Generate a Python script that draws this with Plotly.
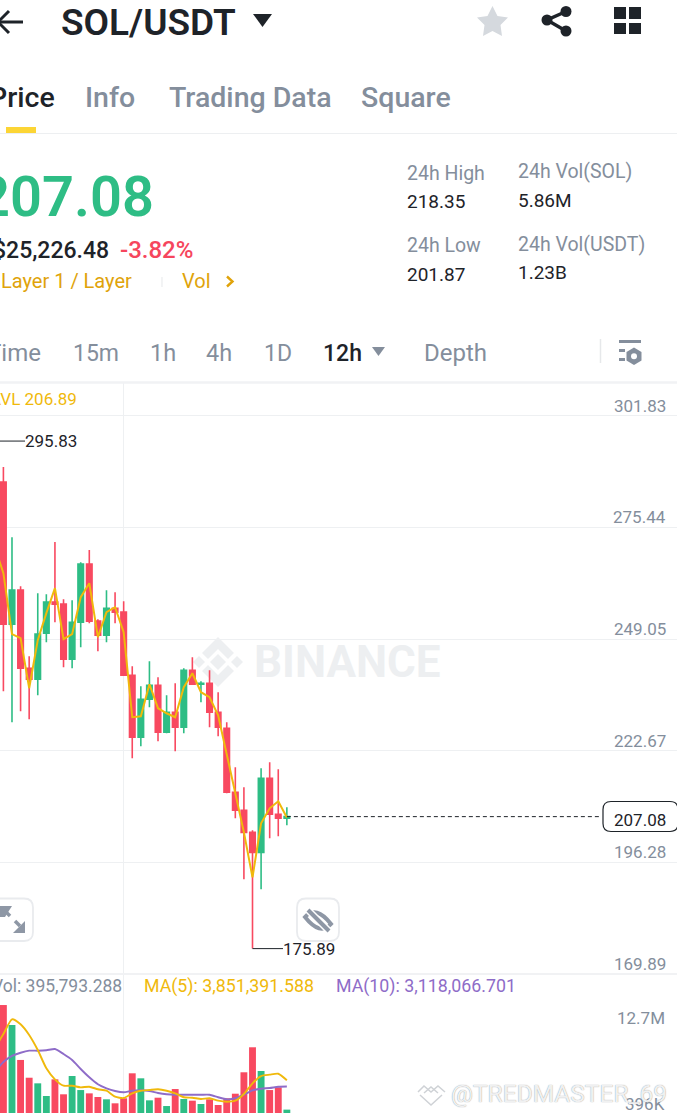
import plotly.graph_objects as go

W = 677
H = 1114

# 12h candles, oldest visible one first
candle_x = list(range(34))
opens = [286.14, 252.56, 260.60, 242.16, 239.55, 250.43, 257.76, 257.29, 244.28, 253.03,
         266.75, 253.27, 249.96, 256.34, 255.40, 240.50, 225.84, 234.82, 238.14, 227.02,
         231.75, 228.20, 241.68, 238.37, 238.61, 231.75, 227.97, 212.83, 208.58, 203.37,
         198.64, 216.14, 207.63, 206.68]
highs = [289.69, 273.13, 261.55, 244.99, 259.89, 259.65, 271.95, 258.47, 258.23, 267.22,
         270.06, 253.74, 260.60, 260.13, 258.00, 242.63, 237.90, 243.81, 240.03, 235.77,
         238.61, 242.16, 244.76, 239.08, 241.68, 236.48, 229.39, 218.74, 214.02, 203.85,
         218.51, 219.93, 218.27, 209.29]
lows = [236.72, 229.39, 231.99, 230.10, 235.77, 248.30, 253.03, 242.39, 242.16, 247.12,
        252.80, 246.18, 248.30, 252.80, 240.50, 220.87, 223.71, 232.93, 224.89, 226.78,
        222.53, 226.78, 238.37, 234.12, 228.20, 226.08, 212.60, 206.68, 192.26, 175.89,
        189.90, 201.96, 202.43, 205.03]
closes = [252.56, 260.60, 242.16, 239.55, 250.20, 257.76, 257.29, 244.28, 253.03, 266.75,
          253.27, 249.96, 256.34, 255.40, 240.50, 225.84, 234.82, 238.14, 227.02, 231.75,
          228.20, 241.68, 238.37, 238.61, 231.75, 228.20, 212.83, 208.58, 203.37, 198.64,
          216.14, 207.63, 206.68, 207.08]

# volumes in millions
volumes = [12.7, 10.35, 6.24, 4.15, 3.49, 2.0, 3.96, 2.2, 4.35, 2.7,
           2.31, 1.88, 1.61, 1.14, 1.73, 4.67, 4.08, 1.49, 1.8, 0.82,
           2.82, 1.65, 1.45, 1.06, 1.61, 0.94, 1.73, 2.27, 4.79, 7.73,
           4.94, 2.7, 3.02, 0.396]

# the lines start one candle before the left edge
line_x = list(range(-1, 34))
avl = [270.77, 264.62, 250.20, 249.25, 237.43, 248.78, 255.16, 261.07, 249.01, 250.20,
       258.94, 262.25, 249.49, 255.40, 256.58, 250.67, 230.57, 230.80, 238.37, 232.70,
       231.51, 230.57, 237.66, 240.97, 236.48, 235.30, 231.04, 222.06, 212.83, 203.37,
       192.73, 205.50, 209.05, 210.70, 206.89]
vol_ma5 = [7.65, 9.29, 11.02, 10.44, 9.18, 7.41, 5.26, 3.96, 3.21, 3.21,
           3.02, 3.09, 2.79, 2.62, 1.92, 1.76, 2.32, 2.62, 2.71, 2.79,
           2.62, 2.32, 1.85, 1.80, 1.65, 1.73, 1.45, 1.33, 1.45, 2.24,
           3.49, 4.35, 4.51, 4.62, 3.851]
vol_ma10 = [4.82, 6.0, 6.71, 7.09, 7.33, 7.33, 7.38, 7.53, 6.94, 6.24,
            5.18, 4.20, 3.38, 2.91, 2.59, 2.44, 2.62, 2.67, 2.59, 2.35,
            2.20, 2.15, 2.15, 2.15, 2.15, 2.15, 1.85, 1.61, 1.73, 2.15,
            2.67, 2.86, 2.94, 3.09, 3.118]

price_ticks = [301.83, 275.44, 249.05, 222.67, 196.28, 169.89]
last_price = 207.08
high_price = 295.83
low_price = 175.89

GREEN = "#2EBD85"
RED = "#F84960"
YELLOW = "#F0B90B"
PURPLE = "#8E6CC8"
DARK = "#1E2329"
GRAY = "#848E9C"
AMBER = "#E0A30A"
GRID = "#EEF0F2"
WM = "#EDEFF1"
FONT = "Roboto"


def px(x):
    return x / W


def py(y):
    return 1 - y / H


def path(points, close=True):
    d = "M " + " L ".join(f"{px(x):.5f} {py(y):.5f}" for x, y in points)
    return d + (" Z" if close else "")


def rounded(x0, y0, x1, y1, r):
    c = [(x0 + r, y0), (x1 - r, y0), (x1, y0), (x1, y0 + r), (x1, y1 - r), (x1, y1),
         (x1 - r, y1), (x0 + r, y1), (x0, y1), (x0, y1 - r), (x0, y0 + r), (x0, y0), (x0 + r, y0)]
    p = [f"{px(x):.5f} {py(y):.5f}" for x, y in c]
    return (f"M {p[0]} L {p[1]} Q {p[2]} {p[3]} L {p[4]} Q {p[5]} {p[6]} L {p[7]} "
            f"Q {p[8]} {p[9]} L {p[10]} Q {p[11]} {p[12]} Z")


def fill_shape(points, color, layer="above"):
    return dict(type="path", xref="paper", yref="paper", path=path(points), fillcolor=color,
                line=dict(width=0), layer=layer)


def stroke_shape(points, color, width=2, layer="above"):
    return dict(type="path", xref="paper", yref="paper", path=path(points, False),
                line=dict(color=color, width=width), layer=layer)


def circle(cx, cy, r, color):
    return dict(type="circle", xref="paper", yref="paper", x0=px(cx - r), x1=px(cx + r),
                y0=py(cy + r), y1=py(cy - r), fillcolor=color, line=dict(width=0))


def diamond(cx, cy, r, color):
    return fill_shape([(cx, cy - r), (cx + r, cy), (cx, cy + r), (cx - r, cy)], color, "below")


def txt(x, y, text, size, color, anchor="left", weight=400):
    # side bearings push the glyphs in a little from the anchor
    nudge = {"left": -1, "right": 2, "center": 0}[anchor]
    return dict(xref="paper", yref="paper", x=px(x + nudge), y=py(y), text=text, showarrow=False,
                xanchor=anchor, yanchor="middle", borderpad=0,
                font=dict(family=FONT, size=size, color=color, weight=weight))


fig = go.Figure()

fig.add_trace(go.Candlestick(
    x=candle_x, open=opens, high=highs, low=lows, close=closes,
    increasing=dict(line=dict(color=GREEN, width=1.6), fillcolor=GREEN),
    decreasing=dict(line=dict(color=RED, width=1.6), fillcolor=RED),
    whiskerwidth=0, hoverinfo="skip", xaxis="x", yaxis="y",
))
fig.add_trace(go.Scatter(x=line_x, y=avl, mode="lines", line=dict(color=YELLOW, width=2),
                         hoverinfo="skip", xaxis="x", yaxis="y"))
fig.add_trace(go.Bar(x=candle_x, y=volumes, width=0.8,
                     marker=dict(color=[GREEN if c >= o else RED for o, c in zip(opens, closes)],
                                 line=dict(width=0)),
                     hoverinfo="skip", xaxis="x2", yaxis="y2"))
fig.add_trace(go.Scatter(x=line_x, y=vol_ma10, mode="lines",
                         line=dict(color=PURPLE, width=1.9, shape="spline", smoothing=0.6),
                         hoverinfo="skip", xaxis="x2", yaxis="y2"))
fig.add_trace(go.Scatter(x=line_x, y=vol_ma5, mode="lines",
                         line=dict(color=YELLOW, width=1.9, shape="spline", smoothing=0.6),
                         hoverinfo="skip", xaxis="x2", yaxis="y2"))

shapes = [
    # header dividers
    dict(type="line", xref="paper", yref="paper", x0=0, x1=1, y0=py(133.5), y1=py(133.5),
         line=dict(color="#EDEFF1", width=1)),
    fill_shape([(6, 127), (36, 127), (36, 133), (6, 133)], "#FCD535"),
    dict(type="line", xref="paper", yref="paper", x0=0, x1=1, y0=py(382.5), y1=py(382.5),
         line=dict(color="#F1F2F4", width=2.5)),
    dict(type="line", xref="paper", yref="paper", x0=0, x1=1, y0=py(974), y1=py(974),
         line=dict(color="#F1F2F4", width=2)),
    # back arrow
    stroke_shape([(0, 22), (23, 22)], DARK, 3),
    stroke_shape([(9, 11), (-2, 22), (9, 33)], DARK, 3),
    # dropdown
    fill_shape([(253, 14), (272, 14), (262.5, 27)], DARK),
    # star
    fill_shape([(492.5, 6), (497.5, 16), (508, 17.5), (500.5, 25), (502, 36), (492.5, 31),
                (483, 36), (484.5, 25), (477, 17.5), (487.5, 16)], "#D5D9DE"),
    # share
    stroke_shape([(566, 11.5), (547, 20), (566, 31)], DARK, 3.5),
    circle(566, 11.5, 5.5, DARK), circle(547, 20, 5.5, DARK), circle(566, 31, 5.5, DARK),
    # grid
    fill_shape([(614, 7), (626, 7), (626, 19), (614, 19)], DARK),
    fill_shape([(629, 7), (641, 7), (641, 19), (629, 19)], DARK),
    fill_shape([(614, 23), (626, 23), (626, 34), (614, 34)], DARK),
    fill_shape([(629, 23), (641, 23), (641, 34), (629, 34)], DARK),
    # small bits next to text
    fill_shape([(372, 347), (385, 347), (378.5, 356)], GRAY),
    stroke_shape([(227, 276.5), (232.5, 281.5), (227, 286.5)], AMBER, 2.4),
    stroke_shape([(162, 277), (162, 287)], "#E6E8EA", 1),
    stroke_shape([(600.5, 339), (600.5, 363)], "#E6E8EA", 1.5),
    # chart settings icon
    fill_shape([(619, 340), (641, 340), (641, 343), (619, 343)], GRAY),
    fill_shape([(619, 349), (625, 349), (625, 352), (619, 352)], GRAY),
    fill_shape([(619, 358), (625, 358), (625, 361), (619, 361)], GRAY),
    fill_shape([(634, 347.5), (641.5, 352), (641.5, 360.5), (634, 365), (626.5, 360.5), (626.5, 352)], GRAY),
    circle(634, 356.2, 3, "#FFFFFF"),
    # watermark logo
    diamond(218, 662, 8, WM),
    diamond(199, 662, 6, WM),
    diamond(237, 662, 6, WM),
    fill_shape([(218, 637), (234, 653), (228, 659), (218, 649), (208, 659), (202, 653)], WM, "below"),
    fill_shape([(218, 687), (234, 671), (228, 665), (218, 675), (208, 665), (202, 671)], WM, "below"),
    # price guides
    dict(type="line", xref="paper", yref="y", x0=0, x1=px(25), y0=high_price, y1=high_price,
         line=dict(color=DARK, width=1)),
    dict(type="line", xref="x", yref="y", x0=29, x1=32.55, y0=low_price, y1=low_price,
         line=dict(color=DARK, width=1)),
    dict(type="line", xref="x", yref="y", x0=33, x1=69.4, y0=last_price, y1=last_price,
         line=dict(color=DARK, width=1, dash="4px,3px")),
    # last price box
    dict(type="path", xref="paper", yref="paper", path=rounded(603, 801.5, 678, 831.5, 8),
         fillcolor="#FFFFFF", line=dict(color=DARK, width=1.2)),
    # expand button
    dict(type="path", xref="paper", yref="paper", path=rounded(-10, 898.5, 33, 941, 9),
         fillcolor="#FFFFFF", line=dict(color="#E9EBEE", width=1.8)),
    fill_shape([(0, 906), (12, 906), (5, 917), (0, 917)], "#8E97A5"),
    stroke_shape([(5, 911), (10, 916)], "#8E97A5", 3.5),
    stroke_shape([(15, 921), (20, 926)], "#8E97A5", 3.5),
    fill_shape([(25, 921), (25, 933), (13, 933)], "#8E97A5"),
    # hide indicators button
    dict(type="path", xref="paper", yref="paper", path=rounded(297, 898.5, 339, 941, 9),
         fillcolor="#FFFFFF", line=dict(color="#E9EBEE", width=1.8)),
    dict(type="path", xref="paper", yref="paper", line=dict(color="#8E97A5", width=4),
         path=f"M {px(305)} {py(917)} Q {px(316)} {py(905)} {px(331)} {py(924)} "
              f"Q {px(320)} {py(936)} {px(305)} {py(917)} Z"),
    stroke_shape([(306, 908), (330, 932)], "#FFFFFF", 7),
    stroke_shape([(308, 910), (329, 931)], "#8E97A5", 4),
    # signature logo
    stroke_shape([(418, 1092), (424, 1086), (431, 1092), (438, 1086), (445, 1092)], "#CFD2D6", 1.5),
    stroke_shape([(424, 1093), (431, 1087), (438, 1093)], "#CFD2D6", 1.5),
    stroke_shape([(420, 1095), (431, 1105), (442, 1095)], "#CFD2D6", 1.5),
]

annotations = [
    txt(61, 22, "SOL/USDT", 37, DARK, weight=600),
    txt(54, 97, "Price", 28.5, DARK, "right", 500),
    txt(85, 97, "Info", 28.5, GRAY, weight=500),
    txt(169, 97, "Trading Data", 28.5, GRAY, weight=500),
    txt(361, 97, "Square", 28.5, GRAY, weight=500),
    txt(153, 197, "207.08", 56, GREEN, "right", 600),
    txt(108, 250, "$25,226.48", 23, DARK, "right", 500),
    txt(120, 250, "-3.82%", 24, "#F6465D", weight=500),
    txt(1, 281, "Layer 1 / Layer", 20, AMBER),
    txt(182, 281, "Vol", 20, AMBER),
    txt(407, 174, "24h High", 19.5, GRAY),
    txt(407, 202, "218.35", 19, DARK),
    txt(518, 171, "24h Vol(SOL)", 19.5, GRAY),
    txt(518, 200, "5.86M", 19, DARK),
    txt(407, 246, "24h Low", 19.5, GRAY),
    txt(407, 274, "201.87", 19, DARK),
    txt(518, 244, "24h Vol(USDT)", 19.5, GRAY),
    txt(518, 272, "1.23B", 19, DARK),
    txt(40, 353, "Time", 24, GRAY, "right"),
    txt(73, 353, "15m", 23, GRAY),
    txt(150, 353, "1h", 23.5, GRAY),
    txt(206, 353, "4h", 23.5, GRAY),
    txt(264, 353, "1D", 23, GRAY),
    txt(323, 353, "12h", 23, DARK, weight=500),
    txt(424, 353, "Depth", 24, GRAY),
    txt(76, 399, "AVL 206.89", 17, YELLOW, "right"),
    txt(254, 662, "BINANCE", 44, WM, weight=700),
    txt(639.5, 820, "207.08", 17, DARK, "center"),
    txt(121, 986, "Vol: 395,793.288", 17.5, GRAY, "right"),
    txt(144, 986, "MA(5): 3,851,391.588", 17.8, YELLOW),
    txt(336, 986, "MA(10): 3,118,066.701", 17.8, PURPLE),
    txt(664, 1018, "12.7M", 17, GRAY, "right"),
    txt(664, 1104, "396K", 17, GRAY, "right"),
]
annotations.append(dict(
    xref="paper", yref="paper", x=px(450), y=py(1093), text="@TREDMASTER_69", showarrow=False,
    xanchor="left", yanchor="middle", borderpad=0,
    font=dict(family=FONT, size=24.5, color="rgba(255,255,255,0.9)", shadow="0 0 1px #6F747A"),
))

# price labels sit just above their grid lines
for tick in price_ticks:
    annotations.append(dict(xref="paper", yref="y", x=px(667), y=tick, yshift=10, text=f"{tick:.2f}",
                            showarrow=False, xanchor="right", yanchor="middle", borderpad=0,
                            font=dict(family=FONT, size=17, color=GRAY)))
annotations.append(dict(xref="paper", yref="y", x=px(24), y=high_price, text=f"{high_price:.2f}",
                        showarrow=False, xanchor="left", yanchor="middle", borderpad=0,
                        font=dict(family=FONT, size=17, color=DARK)))
annotations.append(dict(xref="x", yref="y", x=32.45, y=low_price, text=f"{low_price:.2f}",
                        showarrow=False, xanchor="left", yanchor="middle", borderpad=0,
                        font=dict(family=FONT, size=17, color=DARK)))

x_axis = dict(range=[-0.396, 78.42], tickvals=[14], showticklabels=False, showgrid=True,
              gridcolor=GRID, gridwidth=1, zeroline=False, showline=False, ticks="",
              rangeslider=dict(visible=False), fixedrange=True)

fig.update_layout(
    width=W,
    height=H,
    margin=dict(l=0, r=0, t=0, b=0),
    paper_bgcolor="#FFFFFF",
    plot_bgcolor="#FFFFFF",
    showlegend=False,
    boxgap=0.2,
    boxgroupgap=0.2,
    bargap=0.2,
    xaxis=dict(x_axis, domain=[0, 1], anchor="y"),
    xaxis2=dict(x_axis, domain=[0, 1], anchor="y2"),
    yaxis=dict(domain=[py(974), py(382)], range=[169.89, 309.79], tickvals=price_ticks,
               showticklabels=False, showgrid=True, gridcolor=GRID, gridwidth=1, zeroline=False,
               ticks="", fixedrange=True),
    yaxis2=dict(domain=[py(1113), py(974)], range=[0, 16.35], tickvals=[0],
                showticklabels=False, showgrid=True, gridcolor=GRID, gridwidth=1, zeroline=False,
                ticks="", fixedrange=True),
    shapes=shapes,
    annotations=annotations,
)

fig.write_html(
    "out.html",
    config=dict(displayModeBar=False),
    post_script="document.body.style.margin='0';document.body.style.overflow='hidden';",
)
